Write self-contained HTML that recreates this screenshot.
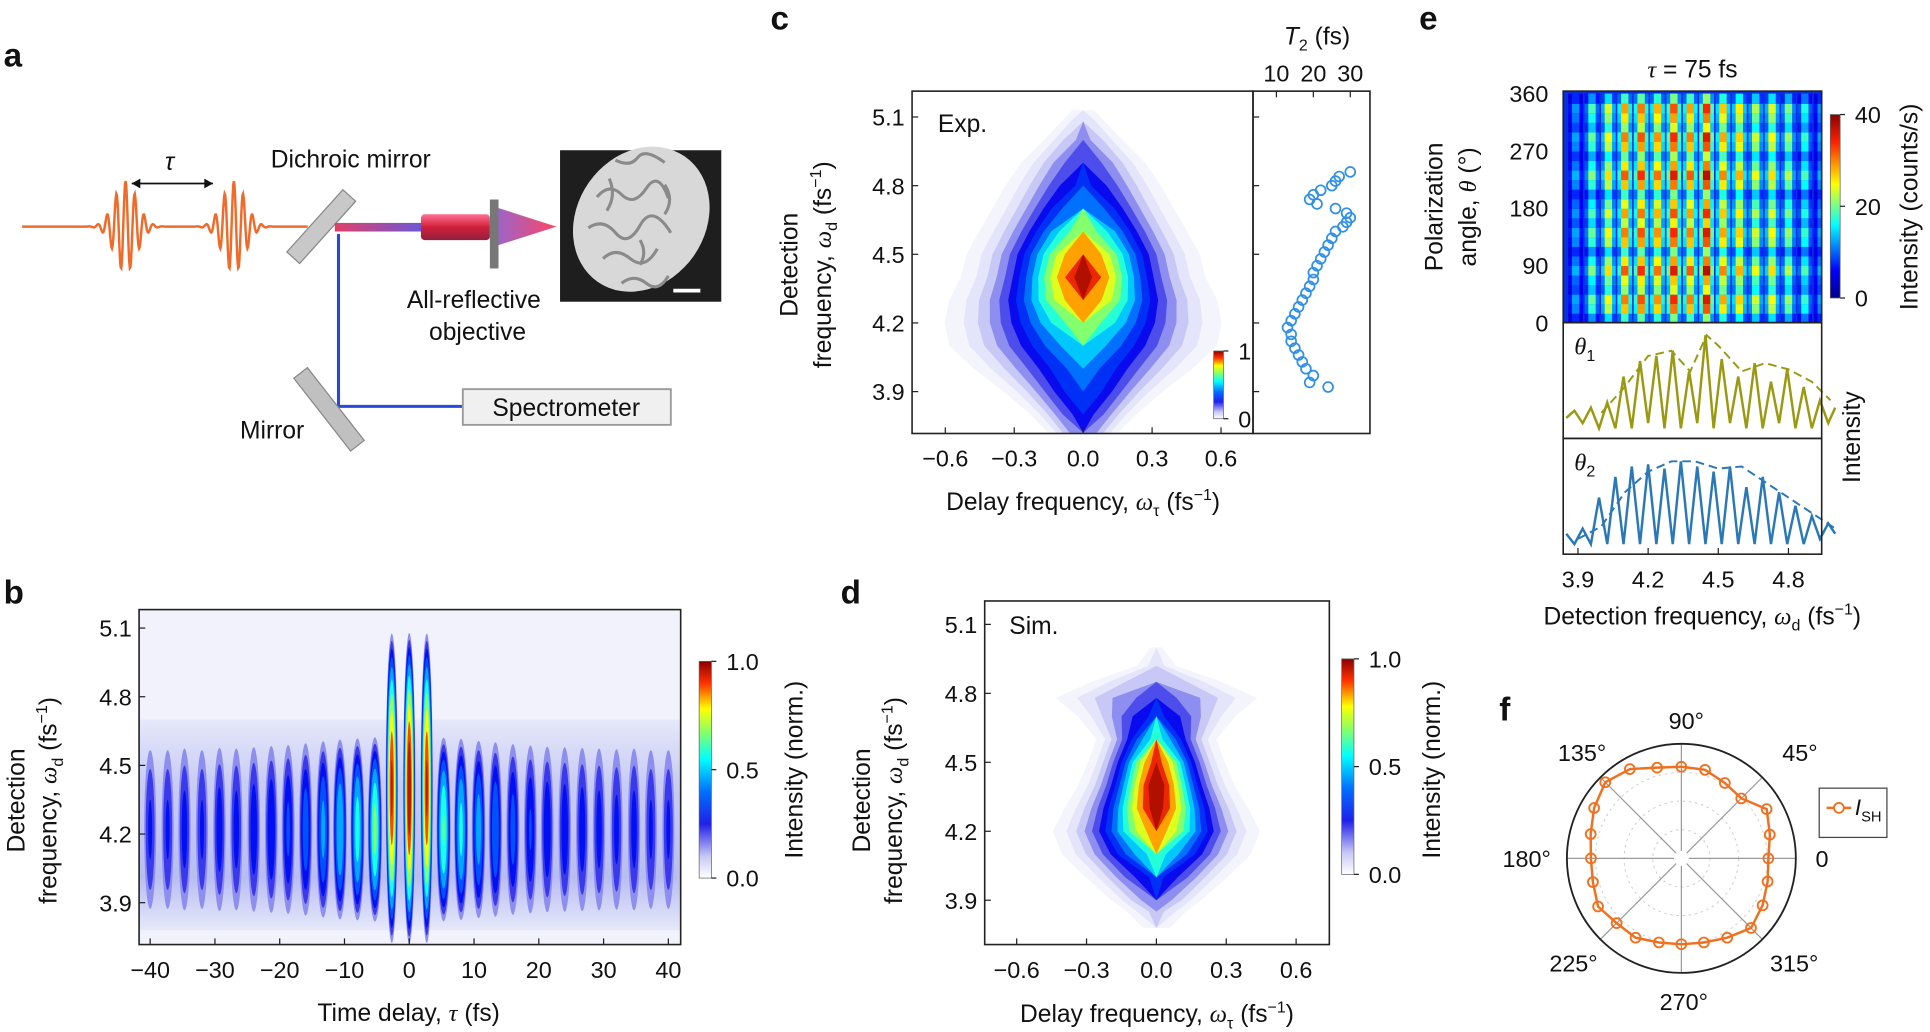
<!DOCTYPE html>
<html><head><meta charset="utf-8"><style>
html,body{margin:0;padding:0;background:#fff;}
svg{display:block;font-family:"Liberation Sans",sans-serif;}
text{font-family:"Liberation Sans",sans-serif;fill:#111;}
.tick{font-size:19px;}
.lab{font-size:20px;}
.pl{font-size:27px;font-weight:bold;}
</style></head><body>
<svg id="fig" xmlns="http://www.w3.org/2000/svg" width="1930" height="1032" viewBox="0 0 1568 838" preserveAspectRatio="none">
<defs>
<linearGradient id="beam" x1="0" x2="1"><stop offset="0" stop-color="#e0406a"/><stop offset="1" stop-color="#6a58d8"/></linearGradient>
<linearGradient id="cyl" x1="0" y1="0" x2="0" y2="1"><stop offset="0" stop-color="#ff7090"/><stop offset="0.5" stop-color="#d0203a"/><stop offset="1" stop-color="#902040"/></linearGradient>
<linearGradient id="cone" x1="0" x2="1"><stop offset="0" stop-color="#8040c0" stop-opacity="0.8"/><stop offset="1" stop-color="#ff3050" stop-opacity="0.9"/></linearGradient>
<linearGradient id="bandG" x1="0" y1="0" x2="0" y2="1"><stop offset="0" stop-color="#e6e8fa"/><stop offset="0.3" stop-color="#c8ccf3"/><stop offset="0.75" stop-color="#b8bdf0"/><stop offset="1" stop-color="#e6e8fa"/></linearGradient>
<linearGradient id="cbjet" x1="0" y1="1" x2="0" y2="0"><stop offset="0" stop-color="#ffffff"/><stop offset="0.1" stop-color="#c8c8f5"/><stop offset="0.25" stop-color="#2020e8"/><stop offset="0.4" stop-color="#0070ff"/><stop offset="0.55" stop-color="#00ffff"/><stop offset="0.68" stop-color="#90ff60"/><stop offset="0.78" stop-color="#ffff00"/><stop offset="0.9" stop-color="#ff3000"/><stop offset="1" stop-color="#8a0000"/></linearGradient>
<linearGradient id="cbjet2" x1="0" y1="1" x2="0" y2="0"><stop offset="0" stop-color="#00008a"/><stop offset="0.15" stop-color="#0000ff"/><stop offset="0.4" stop-color="#00ffff"/><stop offset="0.62" stop-color="#ffff00"/><stop offset="0.85" stop-color="#ff2000"/><stop offset="1" stop-color="#8a0000"/></linearGradient>
<clipPath id="clipB"><rect x="113" y="495" width="440" height="272"/></clipPath>
<clipPath id="clipC"><rect x="741" y="74" width="277" height="278"/></clipPath>
<clipPath id="clipD"><rect x="800" y="488" width="280" height="279"/></clipPath>
<clipPath id="clipE"><rect x="1270" y="74" width="210" height="188"/></clipPath>
</defs>

<g>
<text class="pl" x="3" y="54">a</text>
<path id="pulses" d="" fill="none" stroke="#f06a2a" stroke-width="2"/>
<line x1="107" y1="149" x2="173" y2="149" stroke="#111" stroke-width="1.5"/>
<path d="M107 149 l7 -4 v8z M173 149 l-7 -4 v8z" fill="#111"/>
<text x="134" y="138" font-size="20" font-style="italic" font-family="Liberation Serif">τ</text>
<text class="lab" x="220" y="136">Dichroic mirror</text>
<rect x="254" y="150" width="14" height="68" fill="#c8c8c8" stroke="#888" transform="rotate(42 261 184)"/>
<rect x="272" y="181" width="72" height="7" fill="url(#beam)"/>
<rect x="342" y="174" width="56" height="21" rx="3" fill="url(#cyl)"/>
<polygon points="402,168 452,184 402,200" fill="url(#cone)"/>
<rect x="398" y="162" width="7" height="56" fill="#777"/>
<polyline points="275,190 275,330 376,330" fill="none" stroke="#2848e0" stroke-width="2.5"/>
<rect x="260" y="295" width="14" height="75" fill="#c0c0c0" stroke="#888" transform="rotate(-38 267 332)"/>
<text class="lab" x="195" y="356">Mirror</text>
<rect x="376" y="316" width="169" height="29" fill="#f0f0f0" stroke="#999" stroke-width="1.5"/>
<text class="lab" x="460" y="338" text-anchor="middle">Spectrometer</text>
<text class="lab" x="385" y="250" text-anchor="middle">All-reflective</text>
<text class="lab" x="388" y="276" text-anchor="middle">objective</text>
<rect x="455" y="122" width="131" height="123" fill="#1e1e1e"/>
<ellipse cx="521" cy="178" rx="52" ry="62" fill="#d8d8d8" transform="rotate(35 521 178)"/>
<g fill="none" stroke="#8a8a8a" stroke-width="2.5">
<path d="M485 160 q10 -12 20 -2 t20 -5 t18 8"/><path d="M478 185 q12 -8 22 4 t20 -6 t25 6"/><path d="M490 210 q10 -10 22 0 t22 -8"/><path d="M500 130 q12 6 18 -2 t22 4"/><path d="M505 230 q10 -8 20 0 t18 -6"/><path d="M495 145 q6 14 -2 26"/><path d="M540 150 q8 12 0 24"/><path d="M520 195 q6 10 0 20"/>
</g>
<line x1="547" y1="236" x2="569" y2="236" stroke="#fff" stroke-width="3"/>
</g>

<text class="pl" x="3" y="490">b</text>
<text class="pl" x="626" y="24">c</text>
<text class="pl" x="683" y="490">d</text>
<text class="pl" x="1153" y="24">e</text>
<text class="pl" x="1218" y="585">f</text>
<g id="charts"></g>
</svg>
<script>
const NS='http://www.w3.org/2000/svg';
const root=document.getElementById('charts');
function mk(tag,attrs,parent){const e=document.createElementNS(NS,tag);for(const k in attrs)e.setAttribute(k,attrs[k]);(parent||root).appendChild(e);return e;}
function tx(x,y,s,attrs,parent){const e=mk('text',Object.assign({x:x,y:y},attrs||{}),parent);e.innerHTML=s;return e;}

// ---------- data ----------
const fringeTau=[-40,-37.3,-34.7,-32,-29.3,-26.7,-24,-21.3,-18.7,-16,-13.3,-10.7,-8,-5.3,-2.7,0,2.7,5.3,8,10.7,13.3,16,18.7,21.3,24,26.7,29.3,32,34.7,37.3,40];
const fringeAmp=[0.3,0.3,0.32,0.3,0.33,0.32,0.34,0.36,0.38,0.42,0.48,0.55,0.6,0.68,0.95,1.0,0.95,0.66,0.58,0.5,0.45,0.4,0.37,0.35,0.34,0.33,0.32,0.31,0.32,0.3,0.3];
const bTicks=[-40,-30,-20,-10,0,10,20,30,40];
const freqTicks=[3.9,4.2,4.5,4.8,5.1];
const cFreq=[3.72,3.8,3.9,4.0,4.1,4.2,4.3,4.4,4.5,4.6,4.7,4.8,4.9,5.0,5.08,5.13];
const cAmp=[0.2,0.3,0.4,0.45,0.55,0.7,0.88,0.98,0.9,0.7,0.5,0.35,0.25,0.15,0.08,0.05];
const cWid=[0.1,0.14,0.2,0.27,0.32,0.32,0.3,0.27,0.26,0.24,0.22,0.2,0.17,0.12,0.08,0.05];
const wTicks=[-0.6,-0.3,0.0,0.3,0.6];
const t2Freq=[4.86,4.84,4.82,4.8,4.78,4.76,4.74,4.72,4.7,4.68,4.66,4.64,4.62,4.6,4.57,4.54,4.51,4.48,4.45,4.42,4.39,4.36,4.33,4.3,4.27,4.24,4.21,4.18,4.15,4.12,4.09,4.06,4.03,4.0,3.97,3.94,3.92];
const t2Val=[30,27,26,25,22,20,19,21,26,29,30,29,28,26,25,24,23,22,21,20,20,19,18,17,16,15,14,13,14,14,15,16,17,18,20,19,24];
const t2Ticks=[10,20,30];
const dFreq=[3.78,3.85,3.9,4.0,4.1,4.2,4.3,4.4,4.5,4.6,4.7,4.78,4.85,4.92,5.0];
const dAmp=[0.05,0.1,0.18,0.35,0.6,0.85,0.98,1.0,0.92,0.6,0.35,0.22,0.14,0.06,0.03];
const dWid=[0.06,0.1,0.13,0.18,0.22,0.23,0.2,0.17,0.15,0.14,0.2,0.28,0.2,0.08,0.04];
const eStripeF=[3.89,3.96,4.03,4.1,4.17,4.24,4.31,4.38,4.45,4.52,4.59,4.66,4.73,4.8,4.87,4.94];
const eStripeAmp=[14,22,28,34,36,33,38,34,40,32,30,26,28,24,20,14];
const eRowAngle=[0,15,30,45,60,75,90,105,120,135,150,165,180,195,210,225,240,255,270,285,300,315,330,345];
const eRowFactor=[0.6,0.9,1.0,0.7,0.8,1.05,0.85,0.6,0.9,1.0,0.75,0.95,0.8,0.6,0.9,1.05,0.85,0.65,0.9,1.0,0.7,0.85,0.95,0.6];
const eYTicks=[0,90,180,270,360];
const eXTicks=[3.9,4.2,4.5,4.8];
const cutFreq=[3.85,3.885,3.92,3.955,3.99,4.025,4.06,4.095,4.13,4.165,4.2,4.235,4.27,4.305,4.34,4.375,4.41,4.445,4.48,4.515,4.55,4.585,4.62,4.655,4.69,4.725,4.76,4.795,4.83,4.865,4.9,4.935,4.97,5.0];
const theta1=[0.15,0.22,0.1,0.25,0.05,0.3,0.05,0.55,0.05,0.7,0.1,0.75,0.05,0.8,0.05,0.6,0.1,0.95,0.05,0.72,0.1,0.55,0.05,0.68,0.05,0.5,0.1,0.62,0.05,0.45,0.05,0.32,0.1,0.25];
const theta2=[0.15,0.05,0.2,0.05,0.5,0.05,0.7,0.05,0.8,0.05,0.82,0.05,0.78,0.05,0.85,0.05,0.8,0.05,0.75,0.05,0.8,0.05,0.6,0.05,0.7,0.05,0.55,0.05,0.42,0.05,0.32,0.1,0.25,0.15];
const env1F=[4.0,4.1,4.2,4.3,4.38,4.45,4.5,4.6,4.7,4.8,4.9,4.98];
const env1=[0.2,0.45,0.75,0.8,0.6,0.95,0.85,0.6,0.68,0.62,0.5,0.32];
const env2F=[3.9,4.0,4.1,4.2,4.3,4.4,4.5,4.6,4.7,4.8,4.9,5.0];
const env2=[0.1,0.22,0.55,0.75,0.85,0.85,0.78,0.8,0.65,0.5,0.35,0.2];
const polAngle=[0,15,30,45,60,75,90,105,120,135,150,165,180,195,210,225,240,255,270,285,300,315,330,345];
const polR=[0.76,0.8,0.86,0.74,0.76,0.8,0.8,0.82,0.9,0.94,0.88,0.82,0.79,0.8,0.84,0.8,0.8,0.76,0.75,0.76,0.8,0.86,0.82,0.78];
const polLabels=['0','45°','90°','135°','180°','225°','270°','315°'];

// ---------- helpers ----------
function lerpHex(a,b,t){const p=h=>[1,3,5].map(i=>parseInt(h.substr(i,2),16));const A=p(a),B=p(b);return 'rgb('+A.map((v,i)=>Math.round(v+(B[i]-v)*t)).join(',')+')';}
function cmap(stops,v){v=Math.max(0,Math.min(1,v));for(let i=1;i<stops.length;i++){if(v<=stops[i][0]){const t=(v-stops[i-1][0])/(stops[i][0]-stops[i-1][0]);return lerpHex(stops[i-1][1],stops[i][1],t);}}return stops[stops.length-1][1];}
const JW=[[0,'#ffffff'],[0.08,'#d4d4f8'],[0.18,'#6060ea'],[0.28,'#0000f0'],[0.42,'#0070ff'],[0.55,'#00ffff'],[0.67,'#90ff60'],[0.77,'#ffff00'],[0.88,'#ff3000'],[1,'#8a0000']];
const JB=[[0,'#00008a'],[0.15,'#0000ff'],[0.4,'#00ffff'],[0.62,'#ffff00'],[0.85,'#ff2000'],[1,'#8a0000']];
function lin(d0,d1,r0,r1){return v=>r0+(v-d0)/(d1-d0)*(r1-r0);}
function frame(x,y,w,h,name){const r=mk('rect',{x:x,y:y,width:w,height:h,fill:'none',stroke:'#222','stroke-width':1.3});return r;}

(function(){let d='M18 184';for(let x=18;x<=250;x+=0.5){let y=184;[102,190].forEach(c=>{y-=37*Math.exp(-Math.pow((x-c)/13,2))*Math.cos((x-c)*2*Math.PI/7.5);});d+=' L'+x+' '+y.toFixed(2);}document.getElementById('pulses').setAttribute('d',d);})();

function contourChart(g,freq,amp,wid,xs,ys,levels,clip){
  levels.forEach(L=>{
    const R=[],Lp=[];
    for(let i=0;i<freq.length;i++){const hw=amp[i]>L?wid[i]*Math.sqrt(Math.log(amp[i]/L)):0;R.push([xs(hw),ys(freq[i])]);Lp.push([xs(-hw),ys(freq[i])]);}
    const pts=R.concat(Lp.reverse()).map(p=>p[0].toFixed(1)+','+p[1].toFixed(1)).join(' ');
    const p=mk('polygon',{points:pts,fill:cmap(JW,L),stroke:'none','clip-path':clip},g);
    
    
  });
}
const LEVELS=[0.02,0.05,0.09,0.14,0.2,0.27,0.34,0.42,0.5,0.58,0.66,0.74,0.82,0.9,0.96];

function yFreqAxis(xL,ys,g,name){freqTicks.forEach(f=>{const y=ys(f);const l=mk('line',{x1:xL,x2:xL+5,y1:y,y2:y,stroke:'#222'},g);const t=tx(xL-6,y+7,f.toFixed(1),{class:'tick','text-anchor':'end'},g);});}
function xAxis(vals,xs,yB,g,name,fmt){vals.forEach(v=>{const x=xs(v);const l=mk('line',{x1:x,x2:x,y1:yB,y2:yB-5,stroke:'#222'},g);const t=tx(x,yB+27,fmt(v),{class:'tick','text-anchor':'middle'},g);});}
function fmtW(v){return (v<0?'−':'')+Math.abs(v).toFixed(1);}
function yLabel2(x1,x2,cy,g,name){
  const a=tx(0,0,'Detection',{class:'lab','text-anchor':'middle',transform:'translate('+x1+','+cy+') rotate(-90)'},g);
  const b=tx(0,0,'frequency, <tspan font-style="italic" font-family="Liberation Serif">ω</tspan><tspan font-size="13" dy="5">d</tspan><tspan dy="-5"> (fs</tspan><tspan font-size="13" dy="-8">−1</tspan><tspan dy="8">)</tspan>',{class:'lab','text-anchor':'middle',transform:'translate('+x2+','+cy+') rotate(-90)'},g);}
function colorbar(x,y,w,h,labels,grad,g,name,fmt){const r=mk('rect',{x:x,y:y,width:w,height:h,fill:'url(#'+grad+')',stroke:'#666','stroke-width':0.6},g);
  labels.forEach((v,i)=>{const yy=y+h-(i/(labels.length-1))*h;const t=tx(x+w+12,yy+7,fmt(v),{class:'tick'},g);mk('line',{x1:x+w,x2:x+w+4,y1:yy,y2:yy,stroke:'#222'},g);});}

// ---------- panel b ----------
(function(){
  const g=mk('g',{});
  const xs=lin(-40,40,122,543), ys=lin(3.9,5.1,733,510);
  const bg=mk('rect',{x:113,y:495,width:440,height:272,fill:'#f1f2fb'},g);
  const band=mk('rect',{x:113,y:ys(4.7),width:440,height:ys(3.78)-ys(4.7),fill:'url(#bandG)'},g);
  const fl=[0.12,0.2,0.28,0.36,0.45,0.55,0.65,0.75,0.85,0.93];
  fringeTau.forEach((t,i)=>{const a=fringeAmp[i];
    fl.forEach(L=>{if(a<=L)return;const s=Math.sqrt(1-L/a);
      const big=a>0.9;const cy=ys(big?4.4:4.22);const ry=(ys(4.0)-ys(4.0+(big?0.7:0.42)))*s+4;const rx=(big?1.0:1.2)*5.26*s;
      const e=mk('ellipse',{cx:xs(t),cy:cy,rx:rx,ry:ry,fill:cmap(JW,L+0.02),'clip-path':'url(#clipB)'},g);
      });});
  frame(113,495,440,272,'plot-frame-b');
  yFreqAxis(113,ys,g,'b-y');
  xAxis(bTicks,xs,767,g,'b-x',v=>(v<0?'−':'')+Math.abs(v));
  const xt=tx(332,829,'Time delay, <tspan font-style="italic" font-family="Liberation Serif">τ</tspan> (fs)',{class:'lab','text-anchor':'middle'},g);
  yLabel2(20,46,650,g,'b-y-axis-title');
  colorbar(568,537,10,176,[0,0.5,1],'cbjet',g,'b-colorbar',v=>v.toFixed(1));
  const ct=tx(0,0,'Intensity (norm.)',{class:'lab','text-anchor':'middle',transform:'translate(652,625) rotate(-90)'},g);
})();

// ---------- panel c ----------
(function(){
  const g=mk('g',{});
  const xs=lin(-0.6,0.6,768,992), ys=lin(3.9,5.1,318,95);
  contourChart(g,cFreq,cAmp,cWid,xs,ys,LEVELS,'url(#clipC)');
  frame(741,74,277,278,'plot-frame-c');frame(1018,74,95,278,'t2-frame');
  yFreqAxis(741,ys,g,'c-y');
  freqTicks.forEach(f=>{mk('line',{x1:1018,x2:1023,y1:ys(f),y2:ys(f),stroke:'#222'},g);});
  xAxis(wTicks,xs,352,g,'c-x',fmtW);
  const xt=tx(880,414,'Delay frequency, <tspan font-style="italic" font-family="Liberation Serif">ω</tspan><tspan font-size="13" dy="5">τ</tspan><tspan dy="-5"> (fs</tspan><tspan font-size="13" dy="-8">−1</tspan><tspan dy="8">)</tspan>',{class:'lab','text-anchor':'middle'},g);
  yLabel2(648,675,215,g,'c-y-axis-title');
  const ex=tx(762,107,'Exp.',{class:'lab'},g);
  colorbar(986,285,8,55,[0,1],'cbjet',g,'c-colorbar',v=>String(v));
  const ts=lin(10,30,1037,1097);
  t2Ticks.forEach(v=>{const t=tx(ts(v),66,String(v),{class:'tick','text-anchor':'middle'},g);mk('line',{x1:ts(v),x2:ts(v),y1:74,y2:79,stroke:'#222'},g);});
  const tt=tx(1070,36,'<tspan font-style="italic">T</tspan><tspan font-size="13" dy="5">2</tspan><tspan dy="-5"> (fs)</tspan>',{class:'lab','text-anchor':'middle'},g);
  t2Freq.forEach((f,i)=>{const c=mk('circle',{cx:ts(t2Val[i]),cy:ys(f),r:4,fill:'none',stroke:'#2f8fe8','stroke-width':1.4},g);});
})();

// ---------- panel d ----------
(function(){
  const g=mk('g',{});
  const xs=lin(-0.6,0.6,826,1053), ys=lin(3.9,5.1,731,507);
  contourChart(g,dFreq,dAmp,dWid,xs,ys,LEVELS,'url(#clipD)');
  frame(800,488,280,279,'plot-frame-d');
  yFreqAxis(800,ys,g,'d-y');
  xAxis(wTicks,xs,767,g,'d-x',fmtW);
  const xt=tx(940,830,'Delay frequency, <tspan font-style="italic" font-family="Liberation Serif">ω</tspan><tspan font-size="13" dy="5">τ</tspan><tspan dy="-5"> (fs</tspan><tspan font-size="13" dy="-8">−1</tspan><tspan dy="8">)</tspan>',{class:'lab','text-anchor':'middle'},g);
  yLabel2(707,733,650,g,'d-y-axis-title');
  const sm=tx(820,515,'Sim.',{class:'lab'},g);
  colorbar(1090,535,10,175,[0,0.5,1],'cbjet',g,'d-colorbar',v=>v.toFixed(1));
  const ct=tx(0,0,'Intensity (norm.)',{class:'lab','text-anchor':'middle',transform:'translate(1170,625) rotate(-90)'},g);
})();

// ---------- panel e ----------
(function(){
  const g=mk('g',{});
  const xs=lin(3.9,4.8,1282,1453), ya=lin(0,360,262,76);
  const bg=mk('rect',{x:1270,y:74,width:210,height:188,fill:'#0a30d8'},g);
  const rh=(ya(0)-ya(15));
  eRowAngle.forEach((ang,i)=>{eStripeF.forEach((f,j)=>{const v=eStripeAmp[j]*eRowFactor[i];
    const y=ya(ang)-rh;
    const c1=mk('rect',{x:xs(f)-6,y:y,width:12,height:rh+0.5,fill:cmap(JB,v*0.55/45),'clip-path':'url(#clipE)'},g);
    const c=mk('rect',{x:xs(f)-3,y:y,width:6,height:rh+0.5,fill:cmap(JB,v/45),'clip-path':'url(#clipE)'},g);});});
  frame(1270,74,210,188,'map-frame');
  eYTicks.forEach(v=>{const t=tx(1258,ya(v)+7,String(v),{class:'tick','text-anchor':'end'},g);});
  const tl=tx(1375,63,'<tspan font-style="italic" font-family="Liberation Serif">τ</tspan> = 75 fs',{class:'lab','text-anchor':'middle'},g);
  const y1=tx(0,0,'Polarization',{class:'lab','text-anchor':'middle',transform:'translate(1172,168) rotate(-90)'},g);
  const y2=tx(0,0,'angle, <tspan font-style="italic" font-family="Liberation Serif">θ</tspan> (°)',{class:'lab','text-anchor':'middle',transform:'translate(1199,168) rotate(-90)'},g);
  colorbar(1487,93,8,149,[0,20,40],'cbjet2',g,'e-colorbar',v=>String(v));
  const ct=tx(0,0,'Intensity (counts/s)',{class:'lab','text-anchor':'middle',transform:'translate(1558,168) rotate(-90)'},g);
  function cut(top,vals,envF,env,color,name,lbl){
    const yv=lin(0,1,top+90,top+6);
    frame(1270,top,210,94,name+'-frame');
    const p=mk('polyline',{points:cutFreq.map((f,i)=>xs(f).toFixed(1)+','+yv(vals[i]).toFixed(1)).join(' '),fill:'none',stroke:color,'stroke-width':2},g);
    const q=mk('polyline',{points:envF.map((f,i)=>xs(f).toFixed(1)+','+yv(env[i]).toFixed(1)).join(' '),fill:'none',stroke:color,'stroke-width':1.6,'stroke-dasharray':'7 4'},g);
    const t=tx(1279,top+26,'<tspan font-style="italic" font-family="Liberation Serif">θ</tspan><tspan font-size="13" dy="5">'+lbl+'</tspan>',{class:'lab'},g);
  }
  cut(262,theta1,env1F,env1,'#9a9a12','theta1-cut','1');
  cut(356,theta2,env2F,env2,'#2a78b8','theta2-cut','2');
  xAxis(eXTicks,xs,450,g,'e-x',v=>v.toFixed(1));
  const xt=tx(1383,507,'Detection frequency, <tspan font-style="italic" font-family="Liberation Serif">ω</tspan><tspan font-size="13" dy="5">d</tspan><tspan dy="-5"> (fs</tspan><tspan font-size="13" dy="-8">−1</tspan><tspan dy="8">)</tspan>',{class:'lab','text-anchor':'middle'},g);
  const it=tx(0,0,'Intensity',{class:'lab','text-anchor':'middle',transform:'translate(1511,355) rotate(-90)'},g);
})();

// ---------- panel f ----------
(function(){
  const g=mk('g',{});
  const cx=1366,cy=697,R=93;
  [0.25,0.5,0.75].forEach(r=>{const c=mk('circle',{cx:cx,cy:cy,r:R*r,fill:'none',stroke:'#ccc','stroke-dasharray':'2 3','stroke-width':0.8},g);});
  for(let a=0;a<360;a+=45){const rad=a*Math.PI/180;const l=mk('line',{x1:cx+6*Math.cos(rad),y1:cy-6*Math.sin(rad),x2:cx+R*Math.cos(rad),y2:cy-R*Math.sin(rad),stroke:'#999','stroke-width':1},g);}
  const oc=mk('circle',{cx:cx,cy:cy,r:R,fill:'none',stroke:'#222','stroke-width':1.5},g);
  const pts=polAngle.map((a,i)=>{const rad=a*Math.PI/180;return [cx+R*polR[i]*Math.cos(rad),cy-R*polR[i]*Math.sin(rad)];});
  const pl=mk('polygon',{points:pts.map(p=>p[0].toFixed(1)+','+p[1].toFixed(1)).join(' '),fill:'none',stroke:'#f07020','stroke-width':2},g);
  pts.forEach(p=>{const c=mk('circle',{cx:p[0],cy:p[1],r:4,fill:'none',stroke:'#f07020','stroke-width':1.5},g);});
  const lp=[[1475,704,'start'],[1448,618,'start'],[1370,592,'middle'],[1305,618,'end'],[1260,704,'end'],[1298,789,'end'],[1368,820,'middle'],[1438,789,'start']];
  polLabels.forEach((s,i)=>{const t=tx(lp[i][0],lp[i][1],s,{class:'tick','text-anchor':lp[i][2]},g);});
  const lb=mk('rect',{x:1478,y:640,width:55,height:40,fill:'#fff',stroke:'#444'},g);
  const ll=mk('line',{x1:1484,x2:1504,y1:656,y2:656,stroke:'#f07020','stroke-width':2},g);
  mk('circle',{cx:1494,cy:656,r:4,fill:'#fff',stroke:'#f07020','stroke-width':1.5},g);
  const lt=tx(1507,662,'<tspan font-style="italic">I</tspan><tspan font-size="12" dy="5">SH</tspan>',{'font-size':18},g);
})();
</script>
</body></html>
